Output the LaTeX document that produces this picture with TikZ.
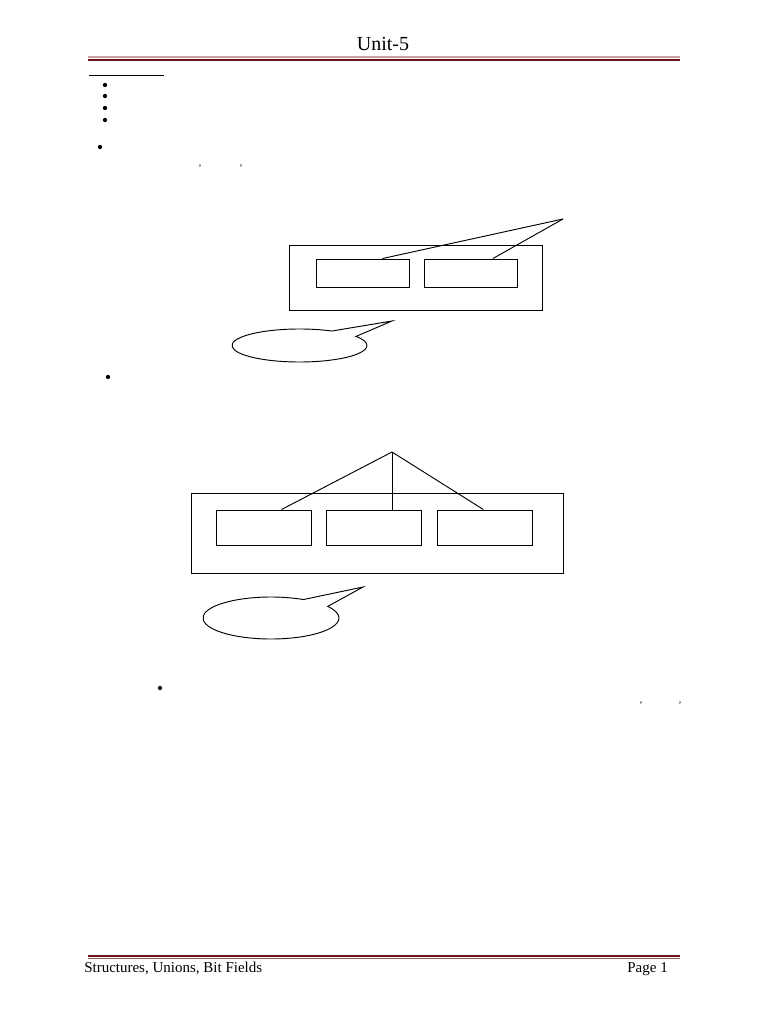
\documentclass[tikz,border=0pt]{standalone}
\usepackage{fontspec}
\setmainfont{Liberation Serif}
\usepackage{tikz}
\usetikzlibrary{positioning, shapes.callouts}
\definecolor{rulered}{RGB}{105,22,24}
\definecolor{rulepink}{RGB}{205,160,160}
\tikzstyle{record} = [draw=black, line width=0.75pt, inner sep=0pt, minimum width=202.4pt, minimum height=52pt]
\tikzstyle{field} = [draw=black, line width=0.75pt, inner sep=0pt, minimum width=74.4pt, minimum height=22.4pt]
\tikzstyle{bubble} = [ellipse callout, draw=black, line width=0.75pt, inner sep=0pt, minimum width=108pt, minimum height=26.4pt, callout pointer arc=28]
\tikzstyle{connect} = [line width=0.75pt,-]
\tikzstyle{dot} = [circle, fill=black, inner sep=0pt, minimum size=3.4pt]
\tikzstyle{tick} = [inner sep=0pt, font=\fontsize{8}{9}\selectfont]

\begin{document}
\begin{tikzpicture}[x=0.8pt,y=-0.8pt]
\useasboundingbox (0,0) rectangle (768,1024);

% header
\node(title)[anchor=base, font=\fontsize{16}{18}\selectfont] at (383,51) {Unit-5};
\draw [rulepink, line width=1.6pt] (88,57.5) -- (680,57.5);
\draw [rulered, line width=1.8pt] (88,60) -- (680,60);
\draw [line width=1.2pt] (89,75.5) -- (164,75.5);

% bullets
\foreach \y in {85,96,108,120}
  \node[dot] at (105,\y) {};
\node(b5)[dot] at (100,147) {};
\node(b6)[dot] at (108,377) {};
\node(b7)[dot] at (160,688) {};
\node[tick] at (200,168) {’};
\node[tick] at (241,168) {’};
\node[tick] at (641,705) {’};
\node[tick] at (680,705) {’};

% first structure
\node(rec1)[record] at (415.5,277.5) {};
\node(f1)[field] at (362.5,273) {};
\node(f2)[field, right=12pt of f1] {};
\coordinate (top1) at (563,219);
\draw [connect] (top1) -- (f1.36);
\draw [connect] (top1) -- (f2.34);
\coordinate (tip1) at (392,321);
\node(note1)[bubble, callout absolute pointer={(tip1)}] at (299.5,345.5) {};

% second structure
\node(rec2)[record, minimum width=297.6pt, minimum height=64pt] at (377,533) {};
\node(g1)[field, minimum width=76pt, minimum height=28pt] at (263.5,527.5) {};
\node(g2)[field, minimum width=76pt, minimum height=28pt, right=11.4pt of g1] {};
\node(g3)[field, minimum width=76pt, minimum height=28pt, right=12pt of g2] {};
\coordinate (top2) at (392,452);
\draw [connect] (top2) -- (g1.45);
\draw [connect] (top2) -- (g2.north -| top2);
\draw [connect] (top2) -- (g3.94);
\coordinate (tip2) at (363,587);
\node(note2)[bubble, minimum width=108.8pt, minimum height=33.6pt, callout absolute pointer={(tip2)}] at (271,618) {};

% footer
\draw [rulered, line width=2pt] (88,956) -- (680,956);
\draw [rulered!70, line width=0.7pt] (88,958.6) -- (680,958.6);
\node(foot)[anchor=base west, inner sep=0pt, font=\fontsize{12}{14}\selectfont] at (84,972) {Structures, Unions, Bit Fields};
\node(page)[anchor=base east, inner sep=0pt, font=\fontsize{12}{14}\selectfont] at (668,972) {Page 1};

\end{tikzpicture}
\end{document}
